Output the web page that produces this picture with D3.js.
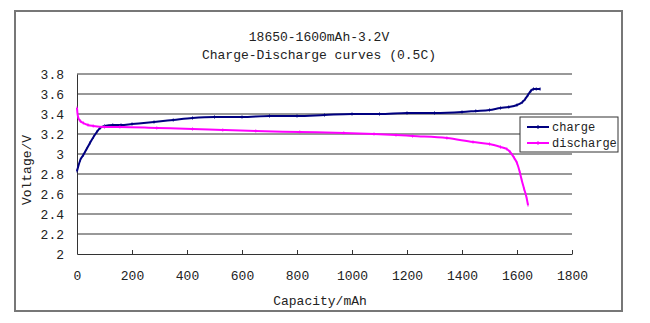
<!DOCTYPE html>
<html>
<head>
<meta charset="utf-8">
<script src="https://cdn.jsdelivr.net/npm/d3@7"></script>
<style>
  body { margin: 0; background: #fff; }
  text { font-family: "Liberation Mono", "DejaVu Sans Mono", monospace; fill: #222; }
</style>
</head>
<body>
<div id="chart"></div>
<script>
  var width = 650;
  var height = 323;

  // charge curve (capacity mAh, voltage V)
  var chargeCap = [0, 5, 12, 23, 35, 47, 60, 72, 84, 100, 130, 160, 200, 280, 350, 420, 500, 600, 700, 800,
                   900, 1000, 1100, 1200, 1300, 1400, 1450, 1500, 1540, 1570, 1600, 1620, 1630, 1640, 1650, 1660, 1670, 1684];
  var chargeV   = [2.83, 2.88, 2.94, 2.99, 3.05, 3.11, 3.17, 3.22, 3.26, 3.28, 3.29, 3.29, 3.30, 3.32, 3.34, 3.36, 3.37, 3.37, 3.38, 3.38,
                   3.39, 3.40, 3.40, 3.41, 3.41, 3.42, 3.43, 3.44, 3.46, 3.47, 3.49, 3.52, 3.55, 3.59, 3.63, 3.65, 3.65, 3.65];

  // discharge curve
  var dischargeCap = [0, 2, 5, 12, 23, 40, 59, 100, 156, 290, 420, 530, 650, 810, 970, 1080, 1160, 1220, 1345, 1440,
                      1500, 1540, 1563, 1575, 1590, 1600, 1610, 1617, 1626, 1635, 1640];
  var dischargeV   = [3.46, 3.40, 3.36, 3.33, 3.31, 3.29, 3.28, 3.27, 3.27, 3.26, 3.25, 3.24, 3.23, 3.22, 3.21, 3.20, 3.19, 3.18, 3.16, 3.12,
                      3.10, 3.07, 3.05, 3.02, 2.96, 2.91, 2.82, 2.74, 2.65, 2.56, 2.49];

  var xTicks = [0, 200, 400, 600, 800, 1000, 1200, 1400, 1600, 1800];
  var yTicks = [2, 2.2, 2.4, 2.6, 2.8, 3, 3.2, 3.4, 3.6, 3.8];
  var titleLines = ["18650-1600mAh-3.2V", "Charge-Discharge curves (0.5C)"];
  var seriesNames = ["charge", "discharge"];
  var seriesColors = ["#000080", "#ff00ff"];

  var svg = d3.select("#chart").append("svg")
              .attr("width", width)
              .attr("height", height);

  // outer frame
  svg.append("rect")
     .attr("x", 15).attr("y", 11)
     .attr("width", 607).attr("height", 300)
     .attr("fill", "none")
     .attr("stroke", "#777")
     .attr("stroke-width", 2);

  var x = d3.scaleLinear().domain([0, 1800]).range([77, 572]);
  var y = d3.scaleLinear().domain([2, 3.8]).range([254, 74]);

  // title
  svg.selectAll(".title")
     .data(titleLines)
     .enter().append("text")
     .attr("class", "title")
     .attr("x", 319)
     .attr("y", function(d, i) { return 41 + i * 18; })
     .attr("text-anchor", "middle")
     .style("font-size", "13px")
     .text(function(d) { return d; });

  // horizontal gridlines
  svg.selectAll(".grid")
     .data(yTicks.slice(1))
     .enter().append("line")
     .attr("x1", x(0)).attr("x2", x(1800))
     .attr("y1", function(d) { return y(d); })
     .attr("y2", function(d) { return y(d); })
     .attr("stroke", "#333")
     .attr("stroke-width", 1);

  // y axis
  var yAxis = svg.append("g")
     .attr("transform", "translate(" + x(0) + ",0)")
     .call(d3.axisLeft(y).tickValues(yTicks).tickSize(0).tickPadding(13)
            .tickFormat(function(d) { return String(+d.toFixed(1)); }));
  yAxis.select(".domain").attr("stroke", "#333");
  yAxis.selectAll("text").style("font-size", "13px").style("font-family", "Liberation Mono");

  // x axis, ticks pointing inward
  var xAxis = svg.append("g")
     .attr("transform", "translate(0," + y(2) + ")")
     .call(d3.axisBottom(x).tickValues(xTicks).tickSizeInner(-4).tickSizeOuter(0).tickPadding(17)
            .tickFormat(d3.format("d")));
  xAxis.select(".domain").attr("stroke", "#333");
  xAxis.selectAll("line").attr("stroke", "#333");
  xAxis.selectAll("text").style("font-size", "13px").style("font-family", "Liberation Mono");

  // axis titles
  svg.append("text")
     .attr("x", 320).attr("y", 305)
     .attr("text-anchor", "middle")
     .style("font-size", "13px")
     .text("Capacity/mAh");
  svg.append("text")
     .attr("transform", "translate(31,170) rotate(-90)")
     .attr("text-anchor", "middle")
     .style("font-size", "13px")
     .text("Voltage/V");

  var line = d3.line()
     .x(function(d) { return x(d[0]); })
     .y(function(d) { return y(d[1]); })
     .curve(d3.curveMonotoneX);

  var chargeData = d3.zip(chargeCap, chargeV);
  var dischargeData = d3.zip(dischargeCap, dischargeV);
  var allSeries = [chargeData, dischargeData];

  allSeries.forEach(function(data, i) {
    svg.append("path")
       .datum(data)
       .attr("d", line)
       .attr("fill", "none")
       .attr("stroke", seriesColors[i])
       .attr("stroke-width", 2);
    // small marks along the curve
    svg.selectAll(".mk" + i)
       .data(data)
       .enter().append("line")
       .attr("x1", function(d) { return x(d[0]); })
       .attr("x2", function(d) { return x(d[0]); })
       .attr("y1", function(d) { return y(d[1]) - 1.5; })
       .attr("y2", function(d) { return y(d[1]) + 1.5; })
       .attr("stroke", seriesColors[i])
       .attr("stroke-width", 1);
  });

  // legend
  var legend = svg.append("g");
  legend.append("rect")
     .attr("x", 520).attr("y", 117)
     .attr("width", 98).attr("height", 35)
     .attr("fill", "#fff")
     .attr("stroke", "#333")
     .attr("stroke-width", 1);
  seriesNames.forEach(function(name, i) {
    var ly = 127 + i * 16;
    legend.append("line")
       .attr("x1", 527).attr("x2", 549)
       .attr("y1", ly).attr("y2", ly)
       .attr("stroke", seriesColors[i]).attr("stroke-width", 2);
    legend.append("line")
       .attr("x1", 538).attr("x2", 538)
       .attr("y1", ly - 2).attr("y2", ly + 2)
       .attr("stroke", seriesColors[i]).attr("stroke-width", 1);
    legend.append("text")
       .attr("x", 552).attr("y", ly + 4)
       .style("font-size", "12px")
       .text(name);
  });
</script>
</body>
</html>
